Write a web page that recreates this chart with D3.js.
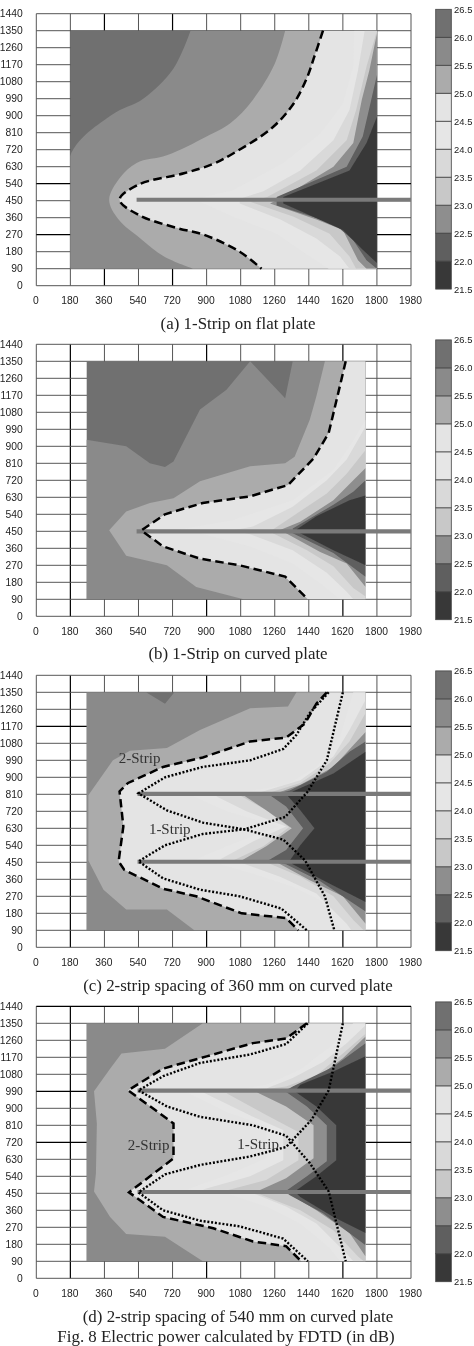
<!DOCTYPE html>
<html>
<head>
<meta charset="utf-8">
<script src="https://cdn.jsdelivr.net/npm/d3@7"></script>
<style>
  html, body { margin: 0; padding: 0; background: #fff; overflow: hidden; }
  svg { display: block; }
</style>
</head>
<body>
<div id="chart"></div>
<script>
// ticks, in mm
const xTicks = [0, 180, 360, 540, 720, 900, 1080, 1260, 1440, 1620, 1800, 1980];
const yTicks = [0, 90, 180, 270, 360, 450, 540, 630, 720, 810, 900, 990, 1080, 1170, 1260, 1350, 1440];
// colour bar, dB
const bandEdges = [21.5, 22, 22.5, 23, 23.5, 24, 24.5, 25, 25.5, 26, 26.5];
const bandGreys = ['#393939', '#5e5e5e', '#8e8e8e', '#c8c8c8', '#d9d9d9', '#e6e6e6', '#e4e4e4', '#ababab', '#8a8a8a', '#707070'];
// boundary levels, painted in this order
const levels = [26, 25.5, 25, 24.5, 24, 23.5, 23, 22.5, 22];

// (a) 1-strip on flat plate: contour outlines [x mm, y mm]
const a26 = [[815,1350],[725,1150],[565,990],[400,905],[180,690],[180,90]];
const a255 = [[1315,1350],[1260,1175],[1145,985],[1025,860],[900,790],[690,690],[530,650],[445,575],[385,455],[435,350],[550,250],[675,155],[830,90]];
const a25 = [[1515,1350],[1470,1215],[1430,1100],[1360,965],[1245,835],[1040,700],[935,645],[780,595],[540,535],[440,455],[540,375],[745,305],[885,270],[1075,180],[1190,90]];
const a245 = [[1680,1350],[1675,1160],[1620,965],[1500,805],[1305,650],[1040,505],[865,465],[865,445],[1040,365],[1270,275],[1445,155],[1545,90]];
const a24 = [[1735,1350],[1700,1140],[1655,930],[1570,770],[1395,610],[1200,500],[1075,460],[1075,435],[1290,350],[1480,250],[1605,155],[1655,90]];
const a235 = [[1800,1350],[1745,1160],[1690,930],[1640,770],[1480,610],[1220,470],[1130,445],[1360,365],[1550,275],[1655,155],[1690,90]];
const a23 = [[1800,1335],[1760,1140],[1720,985],[1675,755],[1570,630],[1305,470],[1235,435],[1480,350],[1620,295],[1700,135],[1745,90]];
const a225 = [[1800,1115],[1770,985],[1725,790],[1640,630],[1270,470],[1270,425],[1570,330],[1675,240],[1745,135],[1800,90]];
const a22 = [[1800,895],[1745,755],[1655,610],[1305,470],[1305,435],[1620,295],[1725,190],[1800,120]];

// (b) 1-strip on curved plate
const b26 = [[1355,1350],[1315,1155],[1130,1350],[1005,1200],[865,1095],[725,820],[680,790],[600,810],[475,900],[265,935],[265,90]];
const b255 = [[1525,1350],[1480,1165],[1445,1040],[1365,845],[1315,810],[1130,795],[865,715],[725,625],[600,600],[475,555],[385,455],[475,320],[690,270],[845,155],[1095,90]];
const b25 = [[1635,1350],[1595,1180],[1545,970],[1465,835],[1330,695],[1130,635],[880,600],[680,540],[555,455],[670,370],[865,305],[1075,270],[1315,210],[1435,90]];
const b245 = [[1740,1040],[1665,915],[1570,775],[1355,615],[1040,510],[760,460],[865,440],[1130,370],[1355,280],[1500,175],[1605,90]];
const b24 = [[1740,1005],[1640,830],[1535,720],[1355,580],[1145,475],[1040,455],[1130,435],[1355,350],[1535,230],[1640,130],[1675,90]];
const b235 = [[1740,880],[1640,755],[1535,650],[1355,530],[1250,460],[1250,440],[1430,350],[1570,265],[1675,150],[1740,105]];
const b23 = [[1740,785],[1675,720],[1570,615],[1395,500],[1285,455],[1320,440],[1500,340],[1640,280],[1740,155]];
const b225 = [[1740,720],[1675,660],[1570,590],[1355,465],[1355,440],[1570,335],[1740,210]];
const b22 = [[1740,640],[1655,615],[1480,530],[1375,460],[1395,440],[1570,350],[1740,270]];

// (c) 2-strip spacing of 360 mm
const c26 = [[730,1350],[680,1290],[580,1350],[265,1350],[265,90]];
const c255 = [[1375,1350],[1330,1275],[1130,1265],[865,1150],[690,1055],[495,1040],[405,990],[275,805],[275,460],[355,305],[475,200],[690,200],[835,90]];
const c25 = [[1535,1350],[1480,1290],[1420,1185],[1320,1110],[1130,1090],[880,1005],[670,955],[485,870],[440,825],[460,640],[435,455],[465,410],[670,310],[845,270],[1085,180],[1320,155],[1385,90]];
const c245 = [[1675,1350],[1605,1115],[1480,955],[1320,860],[1075,820],[865,810],[830,800],[1005,720],[1280,640],[1005,535],[830,460],[935,450],[1145,390],[1355,320],[1500,250],[1585,125],[1615,90]];
const c24 = [[1740,1310],[1655,1150],[1570,1010],[1395,885],[1180,820],[1040,810],[950,800],[1110,720],[1320,640],[1145,560],[970,465],[1075,450],[1285,375],[1480,285],[1640,125],[1665,90]];
const c235 = [[1740,1240],[1655,1090],[1550,975],[1395,870],[1235,820],[1075,805],[1215,725],[1335,635],[1200,535],[1040,460],[1215,450],[1395,375],[1570,270],[1675,145],[1730,90]];
const c23 = [[1740,1140],[1675,1070],[1570,955],[1395,860],[1270,815],[1095,805],[1215,725],[1350,630],[1215,535],[1085,460],[1270,450],[1445,355],[1620,270],[1740,125]];
const c225 = [[1740,1090],[1655,1035],[1535,930],[1340,830],[1235,805],[1320,745],[1410,630],[1320,515],[1225,460],[1320,440],[1500,350],[1740,190]];
const c22 = [[1740,1035],[1570,920],[1355,825],[1330,800],[1395,725],[1470,630],[1395,540],[1340,460],[1355,440],[1515,355],[1740,240]];
const c1a = [[1545,1350],[1445,1240],[1375,1125],[1305,1050],[1130,990],[880,955],[680,900],[540,815],[690,725],[880,660],[1095,625],[1305,570],[1420,460],[1525,270],[1575,90]];
const c1b = [[1620,1350],[1535,990],[1435,825],[1315,690],[1100,625],[880,600],[680,540],[540,455],[670,365],[865,305],[1075,270],[1295,205],[1430,90]];

// (d) 2-strip spacing of 540 mm
const d26 = [[265,1350],[265,90]];
const d255 = [[880,1350],[680,1215],[450,1190],[390,1110],[305,990],[320,820],[315,555],[305,460],[390,325],[475,235],[680,220],[880,90]];
const d25 = [[1430,1350],[1320,1270],[1145,1245],[900,1175],[670,1110],[485,995],[725,820],[725,635],[490,455],[670,325],[935,265],[1145,195],[1320,170],[1400,90]];
const d245 = [[1675,1350],[1550,1225],[1395,1105],[1215,1025],[1040,995],[795,985],[1005,880],[1215,805],[1215,635],[1005,545],[795,470],[1005,450],[1215,380],[1395,290],[1550,160],[1605,90]];
const d24 = [[1740,1340],[1640,1245],[1515,1145],[1355,1060],[1215,1005],[880,985],[1145,855],[1305,785],[1305,625],[1130,540],[880,470],[1145,450],[1320,380],[1480,290],[1640,130],[1675,90]];
const d235 = [[1740,1295],[1620,1190],[1480,1075],[1320,1015],[1165,995],[1005,980],[1215,865],[1385,775],[1385,625],[1215,520],[1005,465],[1180,445],[1395,360],[1570,255],[1700,115],[1730,90]];
const d23 = [[1740,1280],[1620,1165],[1480,1060],[1320,1000],[1165,985],[1320,910],[1465,810],[1465,635],[1320,530],[1165,460],[1340,445],[1480,360],[1655,240],[1740,115]];
const d225 = [[1740,1245],[1570,1120],[1355,1015],[1315,990],[1430,910],[1535,810],[1535,620],[1430,540],[1315,460],[1340,440],[1515,345],[1740,175]];
const d22 = [[1740,1175],[1570,1095],[1395,1025],[1365,990],[1480,910],[1585,810],[1585,625],[1480,540],[1365,460],[1395,430],[1570,325],[1740,240]];
const d1a = [[1435,1350],[1320,1240],[1130,1185],[865,1140],[670,1070],[540,995],[690,910],[865,855],[1145,810],[1320,755],[1445,610],[1545,460],[1635,90]];
const d1b = [[1620,1350],[1545,995],[1455,840],[1320,695],[1130,645],[865,600],[680,550],[540,455],[670,360],[865,305],[1075,275],[1305,210],[1435,90]];

const panels = [
  // smooth: how many of the first outlines get a rounded curve, the rest have sharp tips
  { id: 'a', top: 13.7, caption: '(a) 1-Strip on flat plate', capY: 328.5, xLim: [180, 1800], smooth: 3,
    lines: [a26, a255, a25, a245, a24, a235, a23, a225, a22], dashed: a25, dotted: [],
    strips: [[530, 455]], darkX: [360, 720], darkY: [540, 270], notes: [] },
  { id: 'b', top: 344.3, caption: '(b) 1-Strip on curved plate', capY: 659, xLim: [265, 1740], smooth: 0,
    lines: [b26, b255, b25, b245, b24, b235, b23, b225, b22], dashed: b25, dotted: [],
    strips: [[530, 450]], darkX: [180, 900, 1620], darkY: [], notes: [] },
  { id: 'c', top: 675.3, caption: '(c) 2-strip spacing of 360 mm on curved plate', capY: 990.5, xLim: [265, 1740], smooth: 0,
    lines: [c26, c255, c25, c245, c24, c235, c23, c225, c22], dashed: c25, dotted: [c1a, c1b],
    strips: [[535, 812], [535, 453]], darkX: [180, 900, 1620], darkY: [1170],
    notes: [['2-Strip', 546, 1004], ['1-Strip', 705, 625]] },
  { id: 'd', top: 1006.3, caption: '(d) 2-strip spacing of 540 mm on curved plate', capY: 1321.5, xLim: [265, 1740], smooth: 0,
    lines: [d26, d255, d25, d245, d24, d235, d23, d225, d22], dashed: d25, dotted: [d1a, d1b],
    strips: [[535, 994], [535, 457]], darkX: [180, 900, 1620], darkY: [1440, 990, 720],
    notes: [['2-Strip', 594, 709], ['1-Strip', 1172, 714]] }
];

const width = 474, height = 1346;
const plotL = 36.3, plotR = 411, plotH = 272;
const barL = 435.7, barR = 451.3;
const sans = "'Liberation Sans', Arial, sans-serif";
const serif = "'Liberation Serif', 'Times New Roman', serif";

const svg = d3.select('#chart').append('svg').attr('width', width).attr('height', height);
const defs = svg.append('defs');

// the source is a soft scan, so everything gets a very slight blur
defs.append('filter').attr('id', 'soft')
  .attr('filterUnits', 'userSpaceOnUse')
  .attr('x', 0).attr('y', 0).attr('width', width).attr('height', height)
  .append('feGaussianBlur').attr('stdDeviation', 0.3);
const root = svg.append('g').attr('filter', 'url(#soft)');

function drawPanel(p) {
  const x = d3.scaleLinear().domain([0, 1980]).range([plotL, plotR]);
  const y = d3.scaleLinear().domain([0, 1440]).range([p.top + plotH, p.top]);
  const line = d3.line().x(d => x(d[0])).y(d => y(d[1]));
  const round = d3.line().x(d => x(d[0])).y(d => y(d[1])).curve(d3.curveCatmullRom.alpha(0.5));
  const g = root.append('g');

  // grid
  g.append('g').selectAll('line').data(xTicks).join('line')
    .attr('x1', d => x(d)).attr('x2', d => x(d)).attr('y1', y(0)).attr('y2', y(1440))
    .attr('stroke', d => p.darkX.includes(d) ? '#000' : '#555')
    .attr('stroke-width', d => p.darkX.includes(d) ? 1.2 : 1);
  g.append('g').selectAll('line').data(yTicks).join('line')
    .attr('y1', d => y(d)).attr('y2', d => y(d)).attr('x1', x(0)).attr('x2', x(1980))
    .attr('stroke', d => p.darkY.includes(d) ? '#000' : '#555')
    .attr('stroke-width', d => p.darkY.includes(d) ? 1.2 : 1);

  // contour regions, outermost first; each outline is closed along the right edge
  const xMin = p.xLim[0], xMax = p.xLim[1];
  defs.append('clipPath').attr('id', 'plot-' + p.id).append('rect')
    .attr('x', x(xMin)).attr('y', y(1350))
    .attr('width', x(xMax) - x(xMin)).attr('height', y(90) - y(1350));
  const field = g.append('g').attr('clip-path', `url(#plot-${p.id})`);
  field.append('rect')
    .attr('x', x(xMin)).attr('y', y(1350))
    .attr('width', x(xMax) - x(xMin)).attr('height', y(90) - y(1350))
    .attr('fill', bandGreys[9]);
  field.append('g').selectAll('path').data(p.lines).join('path')
    .attr('d', (d, i) => `${(i < p.smooth ? round : line)(d)}L${x(xMax)},${y(90)}L${x(xMax)},${y(1350)}Z`)
    .attr('fill', (d, i) => bandGreys[bandEdges.indexOf(levels[i]) - 1]);

  // strips
  g.append('g').selectAll('line').data(p.strips).join('line')
    .attr('x1', d => x(d[0])).attr('x2', x(1980))
    .attr('y1', d => y(d[1])).attr('y2', d => y(d[1]))
    .attr('stroke', '#7a7a7a').attr('stroke-width', 4.2);

  // 25 dB contour
  g.append('path').attr('d', (p.smooth ? round : line)(p.dashed)).attr('fill', 'none')
    .attr('stroke', '#000').attr('stroke-width', 2.5).attr('stroke-dasharray', '8.5,4.5');
  g.append('g').selectAll('path').data(p.dotted).join('path')
    .attr('d', line).attr('fill', 'none')
    .attr('stroke', '#000').attr('stroke-width', 2.4).attr('stroke-dasharray', '2,1.8');

  g.append('g').selectAll('text').data(p.notes).join('text')
    .attr('x', d => x(d[1])).attr('y', d => y(d[2])).attr('dy', '0.35em')
    .attr('text-anchor', 'middle').attr('font-family', serif).attr('font-size', 15)
    .attr('fill', '#333').text(d => d[0]);

  // axes
  const xAxis = g.append('g').attr('transform', `translate(-1,${y(0)})`)
    .call(d3.axisBottom(x).tickValues(xTicks).tickSize(0).tickPadding(11).tickFormat(d3.format('d')));
  const yAxis = g.append('g').attr('transform', `translate(${plotL},0)`)
    .call(d3.axisLeft(y).tickValues(yTicks).tickSize(0).tickPadding(13.6).tickFormat(d3.format('d')));
  [xAxis, yAxis].forEach(a => {
    a.select('.domain').remove();
    a.selectAll('text').attr('font-family', sans).attr('font-size', 10.3).attr('fill', '#222');
  });

  // colour bar
  const c = d3.scaleLinear().domain([21.5, 26.5]).range([p.top + plotH + 3.4, p.top - 4.4]);
  g.append('g').selectAll('rect').data(bandGreys).join('rect')
    .attr('x', barL).attr('width', barR - barL)
    .attr('y', (d, i) => c(bandEdges[i + 1]))
    .attr('height', (d, i) => c(bandEdges[i]) - c(bandEdges[i + 1]))
    .attr('fill', d => d).attr('stroke', '#444').attr('stroke-width', 0.8);
  const barAxis = g.append('g').attr('transform', `translate(${barR},0)`)
    .call(d3.axisRight(c).tickValues(bandEdges).tickSize(0).tickPadding(2.8).tickFormat(d3.format('.1f')));
  barAxis.select('.domain').remove();
  barAxis.selectAll('text').attr('font-family', sans).attr('font-size', 9.4).attr('fill', '#222');

  root.append('text').attr('x', 238).attr('y', p.capY).attr('text-anchor', 'middle')
    .attr('font-family', serif).attr('font-size', 16.9).attr('fill', '#222').text(p.caption);
}

panels.forEach(drawPanel);

// sits slightly higher than in the source, where its lower half is cropped off
root.append('text').attr('x', 226).attr('y', 1342).attr('text-anchor', 'middle')
  .attr('font-family', serif).attr('font-size', 16.9).attr('fill', '#222')
  .text('Fig. 8 Electric power calculated by FDTD (in dB)');
</script>
</body>
</html>
